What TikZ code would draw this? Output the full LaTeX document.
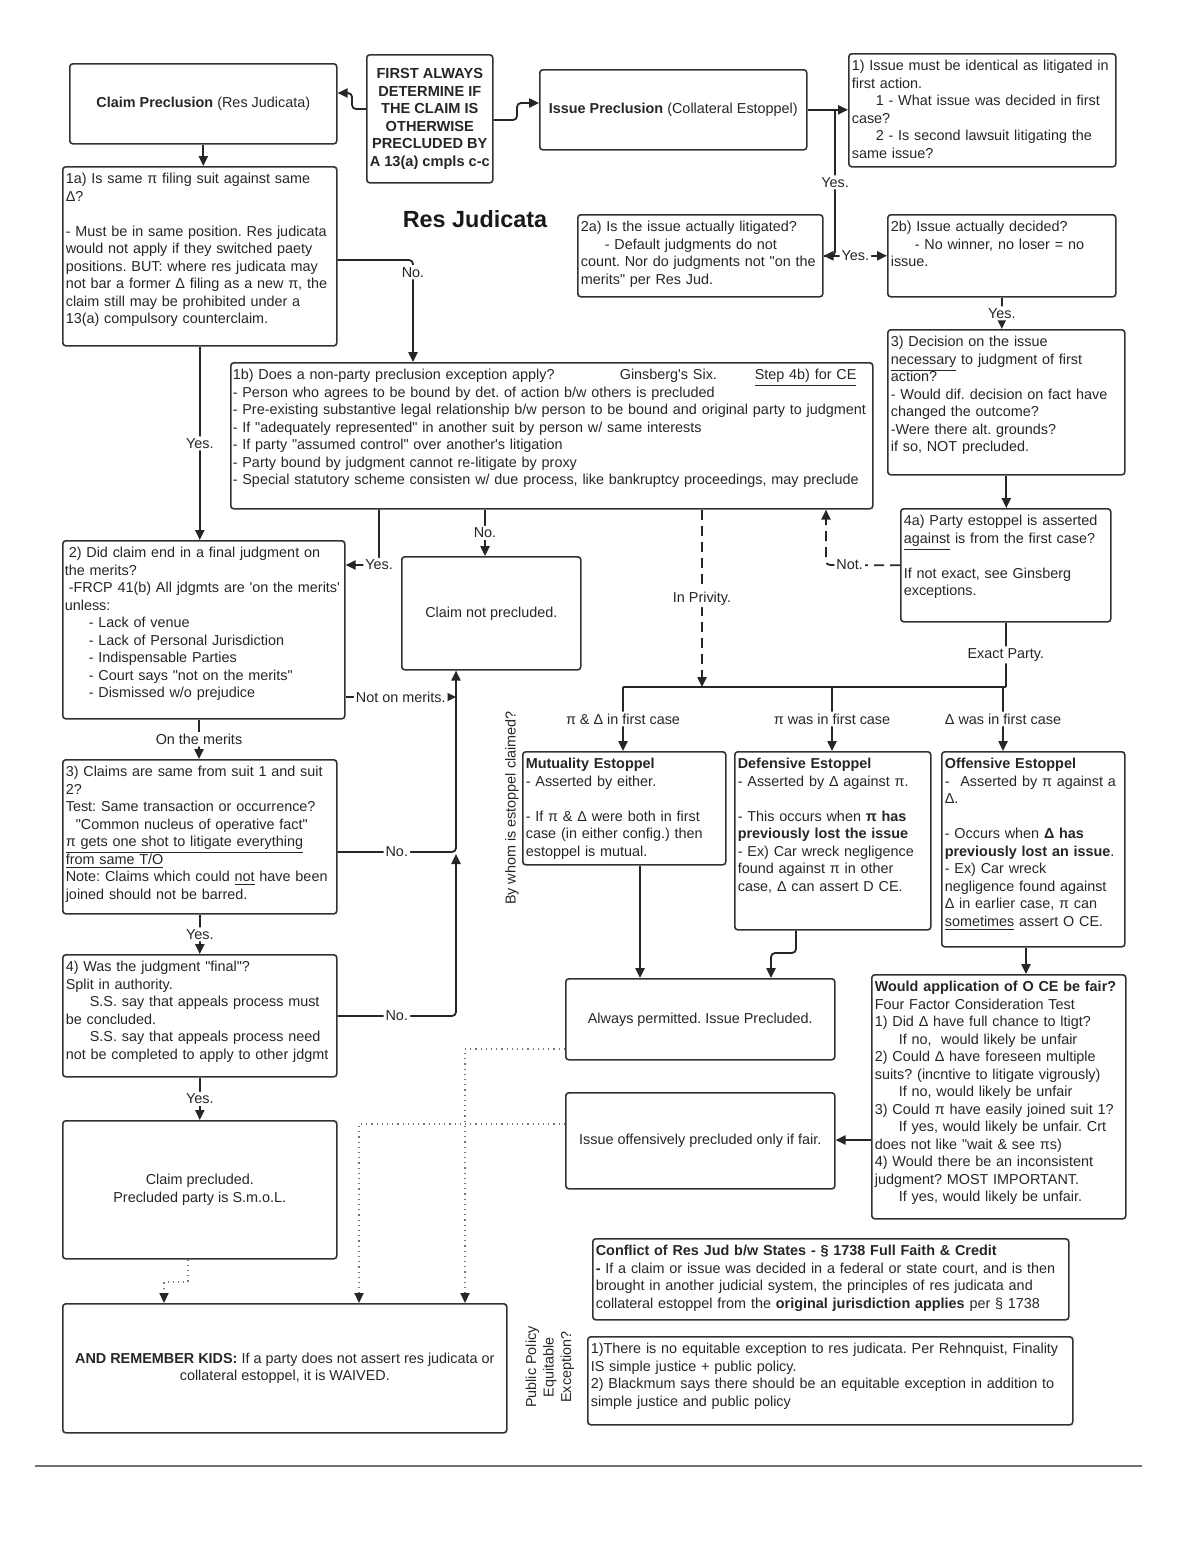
\documentclass[tikz,border=0pt]{standalone}
\usepackage{fontspec}
\setmainfont{Liberation Sans}[Ligatures=TeXOff]
\usetikzlibrary{arrows.meta}
\hyphenpenalty=10000
\exhyphenpenalty=10000

\begin{document}
\begin{tikzpicture}[
    x=0.5pt, y=-0.5pt,
    >={Triangle[length=5pt, width=4.6pt]},
    every node/.style={text=black!85, font=\fontsize{7.2}{8.75}\selectfont\frenchspacing},
    box/.style={draw=black!80, line width=0.8pt, rounded corners=1.5pt, anchor=north west,
        inner xsep=1.5pt, inner ysep=2pt, text height=6.5pt, align=left},
    cbox/.style={draw=black!80, line width=0.8pt, rounded corners=1.5pt, anchor=north west, align=center},
    lbl/.style={fill=white, inner sep=1pt},
    conn/.style={black!85, line width=0.9pt, rounded corners=2pt},
    dots/.style={black!55, dotted, line width=0.6pt, -{Triangle[length=5pt, width=4.6pt, color=black!85]}}
]
\useasboundingbox (0,0) rectangle (1200,1553);

% Start
\node[cbox, minimum width=133.5pt, minimum height=40pt] (cp) at (69,63) {\textbf{Claim Preclusion} (Res Judicata)};
\node[cbox, minimum width=63pt, minimum height=64pt, inner xsep=1pt,
    font=\fontsize{7.3}{8.75}\selectfont\bfseries] (first) at (366,54)
    {FIRST ALWAYS\\DETERMINE IF\\THE CLAIM IS\\OTHERWISE\\PRECLUDED BY\\A 13(a) cmpls c-c};
\node[cbox, minimum width=133.5pt, minimum height=40pt] (ip) at (539,69) {\textbf{Issue Preclusion} (Collateral Estoppel)};
\node[font=\fontsize{11.7}{14}\selectfont\bfseries, text=black!90] (title) at (475,219) {Res Judicata};

% Res judicata
\node[box, text width=134pt, text depth=79pt] (q1a) at (62,166)
    {1a) Is same π filing suit against same\\Δ?\\[8.75pt]- Must be in same position. Res judicata\\would not apply if they switched paety\\positions. BUT: where res judicata may\\not bar a former Δ filing as a new π, the\\claim still may be prohibited under a\\13(a) compulsory counterclaim.};
\node[box, inner xsep=1pt, text width=319pt, text depth=62.5pt] (q1b) at (230,362)
    {\makebox[193.5pt][l]{1b) Does a non-party preclusion exception apply?}\makebox[67.5pt][l]{Ginsberg's Six.}\underline{Step 4b) for CE}\\
    - Person who agrees to be bound by det. of action b/w others is precluded\\
    - Pre-existing substantive legal relationship b/w person to be bound and original party to judgment\\
    - If "adequately represented" in another suit by person w/ same interests\\
    - If party "assumed control" over another's litigation\\
    - Party bound by judgment cannot re-litigate by proxy\\
    - Special statutory scheme consisten w/ due process, like bankruptcy proceedings, may preclude};
\node[box, inner xsep=1pt, text width=139pt, text depth=78.5pt] (q2) at (62,540)
    {\hspace*{2pt}2) Did claim end in a final judgment on\\the merits?\\\hspace*{2pt}-FRCP 41(b) All jdgmts are 'on the merits'\\unless:\\
    \hspace*{12pt}- Lack of venue\\\hspace*{12pt}- Lack of Personal Jurisdiction\\\hspace*{12pt}- Indispensable Parties\\
    \hspace*{12pt}- Court says "not on the merits"\\\hspace*{12pt}- Dismissed w/o prejudice};
\node[cbox, minimum width=89.5pt, minimum height=56.5pt] (cnp) at (401,556) {Claim not precluded.};
\node[box, text width=134pt, text depth=66.5pt] (q3) at (62,759)
    {3) Claims are same from suit 1 and suit\\2?\\Test: Same transaction or occurrence?\\\hspace*{5pt}"Common nucleus of operative fact"\\
    \underline{π gets one shot to litigate everything}\\\underline{from same T/O}\\Note: Claims which could \underline{not} have been\\joined should not be barred.};
\node[box, text width=134pt, text depth=50.5pt] (q4) at (62,954)
    {4) Was the judgment "final"?\\Split in authority.\\\hspace*{12pt}S.S. say that appeals process must\\be concluded.\\
    \hspace*{12pt}S.S. say that appeals process need\\not be completed to apply to other jdgmt};
\node[cbox, minimum width=137pt, minimum height=69pt] (cp2) at (62,1120) {Claim precluded.\\Precluded party is S.m.o.L.};
\node[cbox, minimum width=222pt, minimum height=64.5pt] (kids) at (62,1303)
    {\textbf{AND REMEMBER KIDS:} If a party does not assert res judicata or\\collateral estoppel, it is WAIVED.};

% Collateral estoppel
\node[box, text width=130.5pt, text depth=46pt] (ident) at (848,53)
    {1) Issue must be identical as litigated in\\first action.\\\hspace*{12pt}1 - What issue was decided in first\\case?\\\hspace*{12pt}2 - Is second lawsuit litigating the\\same issue?};
\node[box, text width=119.5pt, text depth=30.5pt] (q2a) at (577,214)
    {2a) Is the issue actually litigated?\\\hspace*{12pt}- Default judgments do not\\count. Nor do judgments not "on the\\merits" per Res Jud.};
\node[box, text width=111pt, text depth=30.5pt] (q2b) at (887,214)
    {2b) Issue actually decided?\\\hspace*{12pt}- No winner, no loser = no\\issue.};
\node[box, text width=115.5pt, text depth=62pt] (q3i) at (887,329)
    {3) Decision on the issue\\\underline{necessary} to judgment of first\\action?\\- Would dif. decision on fact have\\changed the outcome?\\-Were there alt. grounds?\\if so, NOT precluded.};
\node[box, text width=102pt, text depth=46pt] (q4a) at (900,508)
    {4a) Party estoppel is asserted\\\underline{against} is from the first case?\\[8.75pt]If not exact, see Ginsberg\\exceptions.};
\node[box, text width=98.5pt, text depth=46pt] (mut) at (522,751)
    {\textbf{Mutuality Estoppel}\\- Asserted by either.\\[8.75pt]- If π \& Δ were both in first\\case (in either config.) then\\estoppel is mutual.};
\node[box, text width=95pt, text depth=78.5pt] (def) at (734,751)
    {\textbf{Defensive Estoppel}\\- Asserted by Δ against π.\\[8.75pt]- This occurs when \textbf{π has}\\\textbf{previously lost the issue}\\
    - Ex) Car wreck negligence\\found against π in other\\case, Δ can assert D CE.};
\node[box, text width=88.5pt, text depth=87pt] (off) at (941,751)
    {\textbf{Offensive Estoppel}\\-\hspace*{3pt} Asserted by π against a\\Δ.\\[8.75pt]- Occurs when \textbf{Δ has}\\\textbf{previously lost an issue}.\\
    - Ex) Car wreck\\negligence found against\\Δ in earlier case, π can\\\underline{sometimes} assert O CE.};
\node[cbox, minimum width=134.5pt, minimum height=40.5pt] (ap) at (565,978) {Always permitted. Issue Precluded.};
\node[box, text width=124pt, text depth=111.5pt] (fair) at (871,974)
    {\textbf{Would application of O CE be fair?}\\Four Factor Consideration Test\\1) Did Δ have full chance to ltigt?\\\hspace*{12pt}If no,\ \ would likely be unfair\\
    2) Could Δ have foreseen multiple\\suits? (incntive to litigate vigrously)\\\hspace*{12pt}If no, would likely be unfair\\
    3) Could π have easily joined suit 1?\\\hspace*{12pt}If yes, would likely be unfair. Crt\\does not like "wait \& see πs)\\
    4) Would there be an inconsistent\\judgment? MOST IMPORTANT.\\\hspace*{12pt}If yes, would likely be unfair.};
\node[cbox, minimum width=134.5pt, minimum height=48pt] (io) at (565,1092) {Issue offensively precluded only if fair.};
\node[rotate=90] (whom) at (512,808) {By whom is estoppel claimed?};

% Notes
\node[box, text width=235pt, text depth=30pt] (conf) at (592,1238)
    {\textbf{Conflict of Res Jud b/w States - § 1738 Full Faith \& Credit}\\\textbf{-} If a claim or issue was decided in a federal or state court, and is then\\
    brought in another judicial system, the principles of res judicata and\\collateral estoppel from the \textbf{original jurisdiction applies} per § 1738};
\node[box, text width=239.5pt, text depth=33.5pt] (pp) at (587,1336)
    {1)There is no equitable exception to res judicata. Per Rehnquist, Finality\\IS simple justice + public policy.\\
    2) Blackmum says there should be an equitable exception in addition to\\simple justice and public policy};
\node[rotate=90, align=center] (ppq) at (550,1367) {Public Policy\\Equitable\\Exception?};

% Connectors, claim side
\draw[conn, ->] (first.west |- 0,109) -| (352,93) -- (cp.east |- 0,93);
\draw[conn, ->] (first.east |- 0,120) -| (517,103) -- (ip.west |- 0,103);
\draw[conn, ->] (cp.south) -- (cp.south |- q1a.north);
\draw[conn, ->] (q1a.east |- 0,260) -| node[lbl, pos=0.56]{No.} (q1b.north -| 413,0);
\draw[conn, ->] (q1a.south) -- node[lbl]{Yes.} (q1a.south |- q2.north);
\draw[conn, ->] (q1b.south -| 379,0) |- node[lbl]{Yes.} (q2.east |- 0,565);
\draw[conn, ->] (q1b.south -| 485,0) -- node[lbl]{No.} (cnp.north -| 485,0);
\draw[conn, ->] (q2.east |- 0,697) -- node[lbl]{Not on merits.} (456,697);
\draw[conn, ->] (q2.south -| 199,0) -- node[lbl]{On the merits} (q3.north -| 199,0);
\draw[conn, ->] (q3.east |- 0,852) -- node[lbl]{No.} (456,852) -- (cnp.south -| 456,0);
\draw[conn, ->] (q3.south) -- node[lbl]{Yes.} (q3.south |- q4.north);
\draw[conn, ->] (q4.east |- 0,1016) -- node[lbl]{No.} (456,1016) -- (456,854);
\draw[conn, ->] (q4.south) -- node[lbl]{Yes.} (q4.south |- cp2.north);
\draw[dots] (cp2.south -| 188,0) |- (164,1282) -- (kids.north -| 164,0);

% Connectors, issue side
\coordinate (j1) at (835,109);
\draw[conn, ->] (ip.east) -- (ident.west |- ip.east);
\draw[conn, ->] (j1) -- node[lbl]{Yes.} (j1 |- q2a.east) -- (q2a.east);
\draw[conn, ->] (q2a.east) -- node[lbl]{Yes.} (q2b.west);
\draw[conn, ->] (q2b.south) -- node[lbl]{Yes.} (q2b.south |- q3i.north);
\draw[conn, ->] (q3i.south) -- (q3i.south |- q4a.north);
\draw[conn, ->, dash pattern=on 5pt off 3pt] (q4a.west) -- node[lbl, pos=0.68]{Not.} (826,565) -- (q1b.south -| 826,0);
\draw[conn, ->, dash pattern=on 5pt off 3pt] (q1b.south -| 702,0) -- node[lbl]{In Privity.} (702,687);
\draw[conn] (q4a.south) -- node[lbl]{Exact Party.} (q4a.south |- 0,687);
\draw[conn] (623,687) -- (q4a.south |- 0,687);
\foreach \n/\xx/\t in {mut/623/{π \& Δ in first case}, def/832/{π was in first case}, off/1003/{Δ was in first case}}
    \draw[conn, ->] (\xx,687) -- node[lbl]{\t} (\n.north -| \xx,0);
\draw[conn, ->] (mut.south -| 640,0) -- (ap.north -| 640,0);
\draw[conn, ->] (def.south -| 796,0) |- (771,953) -- (ap.north -| 771,0);
\draw[conn, ->] (off.south -| 1026,0) -- (fair.north -| 1026,0);
\draw[conn, ->] (fair.west |- 0,1140) -- (io.east |- 0,1140);
\draw[dots] (ap.west |- 0,1049) -| (kids.north -| 465,0);
\draw[dots] (io.west |- 0,1124) -| (kids.north -| 359,0);

% Page rule
\draw[black!55, line width=0.6pt] (35,1466) -- (1142,1466);
\end{tikzpicture}
\end{document}
